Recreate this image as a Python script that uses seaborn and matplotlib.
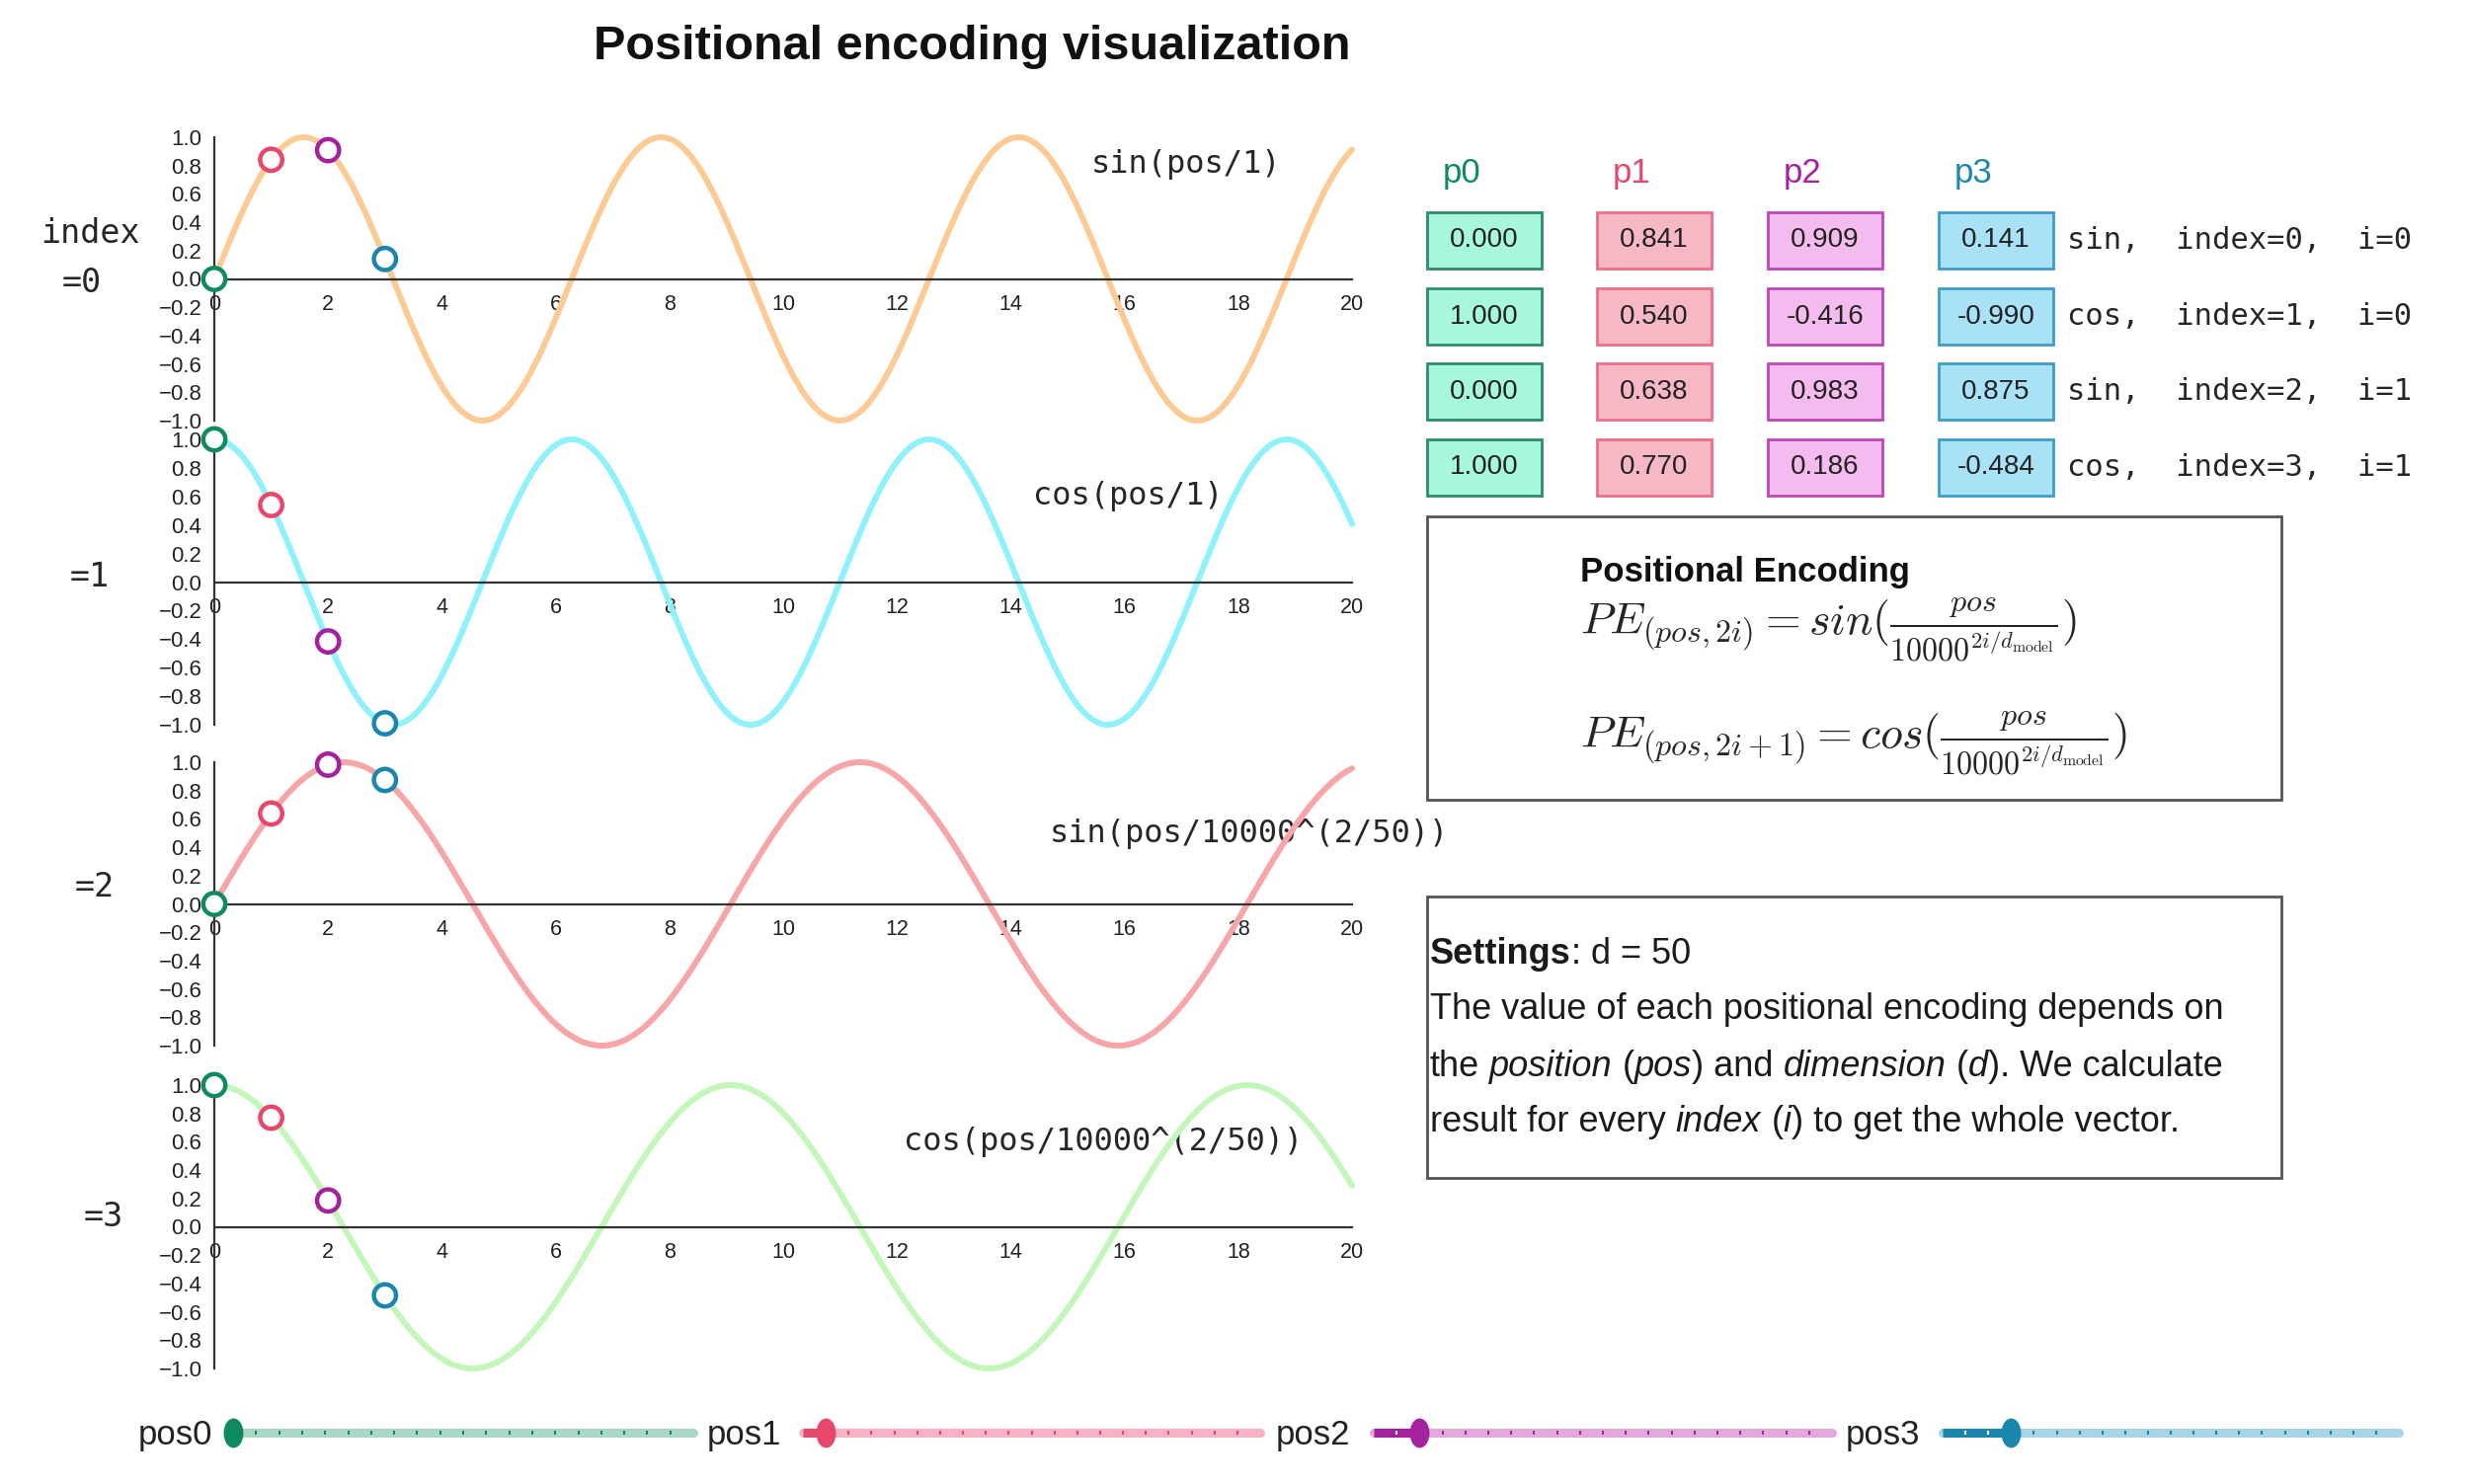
import numpy as np
import pandas as pd
import matplotlib.pyplot as plt
import seaborn as sns
from matplotlib.patches import Rectangle
from matplotlib.path import Path
from matplotlib.transforms import Affine2D

sns.set_style("white")
plt.rcParams['font.family'] = ['Liberation Sans', 'DejaVu Sans']
plt.rcParams['mathtext.fontset'] = 'cm'

W, H = 2501, 1503

# ---- data ----
positions = [0, 1, 2, 3]
col_names = ["p0", "p1", "p2", "p3"]
slider_names = ["pos0", "pos1", "pos2", "pos3"]
index_labels = ["=0", "=1", "=2", "=3"]
curve_labels = ["sin(pos/1)", "cos(pos/1)", "sin(pos/10000^(2/50))", "cos(pos/10000^(2/50))"]
row_labels = ["sin,  index=0,  i=0", "cos,  index=1,  i=0",
              "sin,  index=2,  i=1", "cos,  index=3,  i=1"]
curve_funcs = ["sin", "cos", "sin", "cos"]
curve_divisors = [1.0, 1.0, 1.445, 1.445]   # 10000^(2/50)
y_ticks = [-1.0, -0.8, -0.6, -0.4, -0.2, 0.0, 0.2, 0.4, 0.6, 0.8, 1.0]
x_ticks = [0, 2, 4, 6, 8, 10, 12, 14, 16, 18, 20]

enc_index0 = [0.000, 0.841, 0.909, 0.141]
enc_index1 = [1.000, 0.540, -0.416, -0.990]
enc_index2 = [0.000, 0.638, 0.983, 0.875]
enc_index3 = [1.000, 0.770, 0.186, -0.484]
enc_rows = [enc_index0, enc_index1, enc_index2, enc_index3]

# ---- styles ----
curve_colors = ["#fdca94", "#8ef1fb", "#f8a5a8", "#c3f7b9"]
pos_colors = ["#0e8a5f", "#e8476c", "#a5229e", "#1a86ad"]
box_fill = ["#a7f7df", "#f7b8c5", "#f4bcee", "#a9e1f6"]
box_edge = ["#2e8b68", "#ee6e88", "#c045b5", "#3e9cc8"]
track_light = ["#a9d8c4", "#f7b3c3", "#e3a8dc", "#a8d4e6"]

mono = ['DejaVu Sans Mono']

fig = plt.figure(figsize=(W / 100, H / 100), dpi=100)

# background axes in pixel coordinates for annotations
bg = fig.add_axes([0, 0, 1, 1])
bg.set_xlim(0, W)
bg.set_ylim(H, 0)
bg.axis("off")


def frac_rect(left, top, right, bottom):
    return [left / W, 1 - bottom / H, (right - left) / W, (bottom - top) / H]


def tick_fmt(v, _):
    if abs(v) < 1e-9:
        return "0.0"
    return f"{v:.1f}".replace("-", "\u2212")


bg.text(984, 48, "Positional encoding visualization", ha="center", va="center",
        fontsize=35, fontweight="bold", color="#111111")

# ---- wave panels ----
panel_rows = [(139, 426), (445, 734), (772, 1059), (1099, 1386)]
xs = np.linspace(0, 20, 800)
for k, (top, bottom) in enumerate(panel_rows):
    ax = fig.add_axes(frac_rect(217, top, 1369, bottom))
    ax.set_facecolor("none")
    fn = np.sin if curve_funcs[k] == "sin" else np.cos
    df = pd.DataFrame({"x": xs, "y": fn(xs / curve_divisors[k])})
    sns.lineplot(data=df, x="x", y="y", ax=ax, color=curve_colors[k],
                 linewidth=4.3, clip_on=False)
    ax.scatter(positions, enc_rows[k], s=260, facecolors="white",
               edgecolors=pos_colors, linewidths=3.2, zorder=5, clip_on=False)
    ax.set_xlim(0, 20)
    ax.set_ylim(-1, 1)
    ax.set_xticks(x_ticks)
    ax.set_yticks(y_ticks)
    ax.yaxis.set_major_formatter(plt.FuncFormatter(tick_fmt))
    ax.spines["bottom"].set_position(("data", 0))
    ax.spines["top"].set_visible(False)
    ax.spines["right"].set_visible(False)
    for s in ("left", "bottom"):
        ax.spines[s].set_linewidth(1.6)
        ax.spines[s].set_color("#333333")
    ax.tick_params(axis="both", direction="out", length=7, width=1.5,
                   labelsize=16, colors="#222222", pad=2)
    ax.tick_params(axis="x", labelsize=15.5, pad=4)
    ax.set_xlabel("")
    ax.set_ylabel("")

# curve formulas inside panels
curve_label_xy = [(1201, 166), (1142, 502), (1265, 845), (1117, 1156)]
for lab, (x, y) in zip(curve_labels, curve_label_xy):
    bg.text(x, y, lab, ha="center", va="center", fontsize=23, family=mono)

# index labels on the left
bg.text(91, 236, "index", ha="center", va="center", fontsize=24, family=mono)
index_xy = [(83, 287), (91, 584), (96, 898), (105, 1233)]
for lab, (x, y) in zip(index_labels, index_xy):
    bg.text(x, y, lab, ha="center", va="center", fontsize=24, family=mono)

# ---- value table ----
col_left = [1445, 1617, 1790, 1963]
row_top = [215, 292, 368, 445]
bw, bh = 116, 57
for c in range(4):
    bg.text(col_left[c] + 16, 175, col_names[c], ha="left", va="center",
            fontsize=25, color=pos_colors[c])
    for r in range(4):
        bg.add_patch(Rectangle((col_left[c], row_top[r]), bw, bh,
                               facecolor=box_fill[c], edgecolor=box_edge[c], lw=2))
        bg.text(col_left[c] + bw / 2, row_top[r] + bh / 2, f"{enc_rows[r][c]:.3f}",
                ha="center", va="center", fontsize=20, color="#222222")
for r in range(4):
    bg.text(2093, row_top[r] + bh / 2, row_labels[r], ha="left", va="center",
            fontsize=22, family=mono)

# ---- formula box ----
bg.add_patch(Rectangle((1445, 523), 865, 287, facecolor="none",
                       edgecolor="#555555", lw=2))
bg.text(1600, 579, "Positional Encoding", ha="left", va="center",
        fontsize=25, fontweight="bold", color="#111111")
bg.text(1600, 637, r"$PE_{(pos,2i)} = sin(\frac{pos}{10000^{2i/d_{\mathrm{model}}}})$",
        ha="left", va="center", fontsize=33)
bg.text(1600, 752, r"$PE_{(pos,2i+1)} = cos(\frac{pos}{10000^{2i/d_{\mathrm{model}}}})$",
        ha="left", va="center", fontsize=33)

# ---- settings box ----
bg.add_patch(Rectangle((1445, 908), 865, 285, facecolor="none",
                       edgecolor="#555555", lw=2))
renderer = fig.canvas.get_renderer()
set_size = 26


def measure(s, **kw):
    t = bg.text(0, 0, s, fontsize=set_size, **kw)
    w = t.get_window_extent(renderer=renderer).width
    t.remove()
    return w


space_w = measure("x x") - measure("xx")


def rich_line(x, y, parts):
    for s, style, weight in parts:
        lead = len(s) - len(s.lstrip(" "))
        trail = len(s) - len(s.rstrip(" "))
        x += lead * space_w
        core = s.strip(" ")
        if core:
            t = bg.text(x, y, core, fontsize=set_size, style=style, fontweight=weight,
                        ha="left", va="center", color="#1a1a1a")
            x += t.get_window_extent(renderer=renderer).width
        x += trail * space_w


N, I = "normal", "italic"
settings_lines = [
    [("Settings", N, "bold"), (": d = 50", N, N)],
    [("The value of each positional encoding depends on", N, N)],
    [("the ", N, N), ("position", I, N), (" (", N, N), ("pos", I, N), (") and ", N, N),
     ("dimension", I, N), (" (", N, N), ("d", I, N), ("). We calculate", N, N)],
    [("result for every ", N, N), ("index", I, N), (" (", N, N), ("i", I, N),
     (") to get the whole vector.", N, N)],
]
for parts, y in zip(settings_lines, [967, 1023, 1080, 1136]):
    rich_line(1448, y, parts)

# ---- sliders ----
slider_label_x = [215, 791, 1367, 1944]
track_x = [(236, 702), (813, 1276), (1391, 1855), (1967, 2429)]
knob = Path.unit_circle().transformed(Affine2D().scale(0.65, 1.0))
for k in range(4):
    bg.text(slider_label_x[k], 1453, slider_names[k], ha="right", va="center",
            fontsize=25, color="#222222")
    left, right = track_x[k]
    sax = fig.add_axes(frac_rect(left, 1431, right, 1471))
    sax.set_facecolor("none")
    sax.axis("off")
    sax.set_xlim(0, 20)
    sax.set_ylim(-1, 1)
    sax.plot([0, 20], [0, 0], color=track_light[k], lw=6.5,
             solid_capstyle="round", clip_on=False)
    sax.plot([0, positions[k]], [0, 0], color=pos_colors[k], lw=6.5,
             solid_capstyle="butt", clip_on=False)
    ticks = np.arange(1, 20)
    tick_cols = ["white" if t < positions[k] else pos_colors[k] for t in ticks]
    sax.scatter(ticks, np.zeros(len(ticks)), marker="|", s=10, linewidths=1.5,
                c=tick_cols, zorder=3, clip_on=False)
    sax.scatter([positions[k]], [0], marker=knob, s=420, color=pos_colors[k],
                zorder=4, clip_on=False)

fig.savefig("out.png", dpi=100)
